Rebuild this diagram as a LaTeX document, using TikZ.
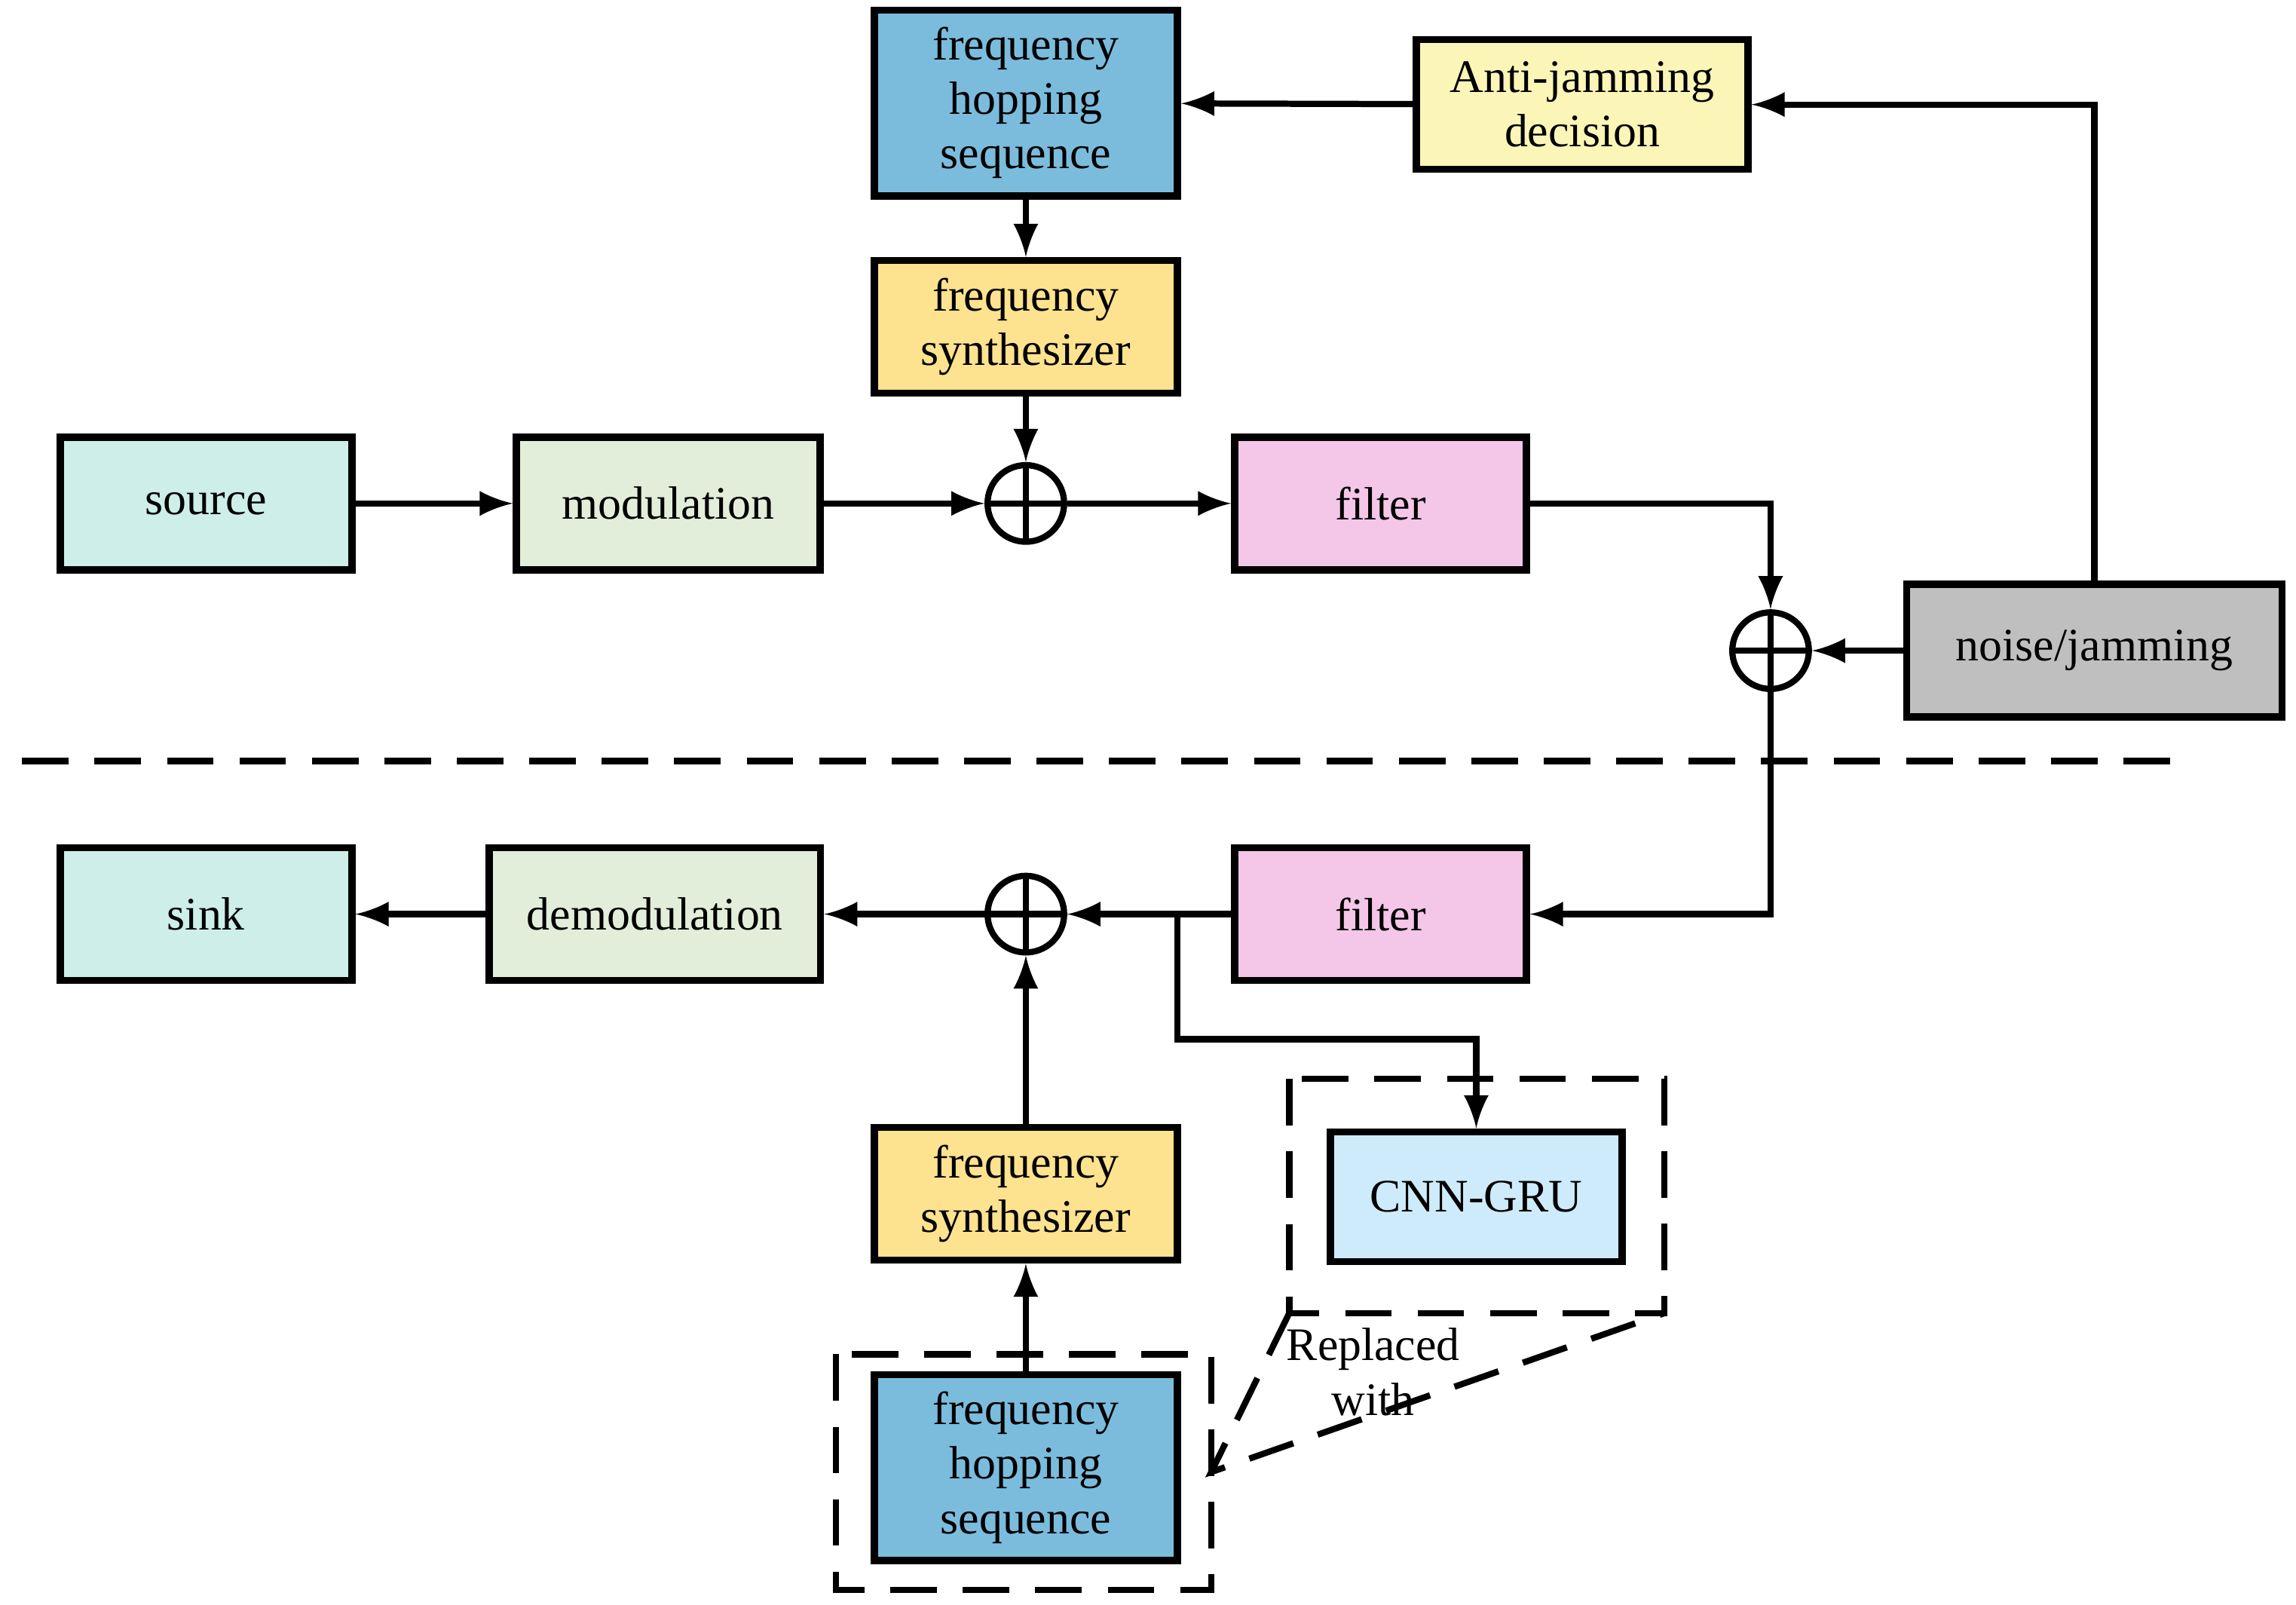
\documentclass[tikz,border=0pt]{standalone}
\usepackage{fontspec}
\setmainfont{Liberation Serif}
\usetikzlibrary{arrows}

\definecolor{hopblue}{HTML}{7BBCDD}
\definecolor{decyellow}{HTML}{FBF5B8}
\definecolor{synthyellow}{HTML}{FDE28F}
\definecolor{srcgreen}{HTML}{CDEEE9}
\definecolor{modgreen}{HTML}{E2EED9}
\definecolor{filterpink}{HTML}{F4C6E8}
\definecolor{noisegray}{HTML}{BFBFBF}
\definecolor{cnnblue}{HTML}{CDEBFB}

\tikzset{
  block/.style={draw, line width=1.4pt, minimum height=0.9cm, minimum width=1.98cm,
                align=center, font=\fontsize{9}{10.5}\selectfont},
  adder/.style={draw, circle, line width=1.2pt, minimum size=0.52cm, inner sep=0pt,
                path picture={\draw[line width=1.2pt]
                  (path picture bounding box.north) -- (path picture bounding box.south)
                  (path picture bounding box.west) -- (path picture bounding box.east);}},
  wire/.style={line width=1.2pt},
  arr/.style={wire, -latex},
  frame/.style={line width=1.2pt, dashed, dash pattern=on 9pt off 5pt}
}

\begin{document}
\begin{tikzpicture}[x=0.01cm, y=-0.01cm, >=latex]
    \useasboundingbox (0,0) rectangle (1560,1090);

    % transmitter
    \node[block, fill=hopblue, minimum width=2.06cm, minimum height=1.15cm] (hop1) at (697,70) {frequency\\hopping\\sequence};
    \node[block, fill=decyellow, minimum width=2.25cm, minimum height=0.88cm] (anti) at (1075,71) {Anti-jamming\\decision};
    \node[block, fill=synthyellow, minimum width=2.06cm] (syn1) at (697,222) {frequency\\synthesizer};
    \node[block, fill=srcgreen] (source) at (140,342) {source};
    \node[block, fill=modgreen, minimum width=2.06cm] (mod) at (454,342) {modulation};
    \node[adder] (add1) at (697,342) {};
    \node[block, fill=filterpink] (filt1) at (938,342) {filter};
    \node[adder] (add2) at (1203,442) {};
    \node[block, fill=noisegray, minimum width=2.55cm] (noise) at (1423,442) {noise/jamming};

    \coordinate (lineL) at (15,517);
    \coordinate (lineR) at (1490,517);
    \draw[frame] (lineL) -- (lineR);

    % receiver
    \node[block, fill=srcgreen] (sink) at (140,621) {sink};
    \node[block, fill=modgreen, minimum width=2.25cm] (demod) at (445,621) {demodulation};
    \node[adder] (add3) at (697,621) {};
    \node[block, fill=filterpink] (filt2) at (938,621) {filter};
    \node[block, fill=synthyellow, minimum width=2.06cm] (syn2) at (697,811) {frequency\\synthesizer};
    \node[block, fill=cnnblue, minimum height=0.88cm] (cnn) at (1003,813) {CNN-GRU};
    \node[block, fill=hopblue, minimum width=2.06cm, minimum height=1.15cm] (hop2) at (697,997) {frequency\\hopping\\sequence};

    \draw[arr] (anti) -- (hop1);
    \draw[arr] (noise.north) |- (anti.east);
    \draw[arr] (hop1) -- (syn1);
    \draw[arr] (syn1) -- (add1);
    \draw[arr] (source) -- (mod);
    \draw[arr] (mod) -- (add1);
    \draw[arr] (add1) -- (filt1);
    \draw[arr] (filt1.east) -| (add2.north);
    \draw[arr] (noise) -- (add2);
    \draw[arr] (add2.south) |- (filt2.east);
    \draw[arr] (filt2) -- (add3);
    \draw[arr] (add3) -- (demod);
    \draw[arr] (demod) -- (sink);
    \draw[arr] (syn2) -- (add3);
    \draw[arr] (hop2) -- (syn2);

    \coordinate (tap) at (800,621);
    \coordinate (bend) at (800,706);
    \draw[arr] (tap) -- (bend) -| (cnn.north);

    % replacement frames
    \coordinate (cnnTL) at (876,733);
    \coordinate (cnnBR) at (1131,892);
    \coordinate (cnnBL) at (876,892);
    \coordinate (hopTL) at (568,920);
    \coordinate (hopBR) at (823,1080);
    \coordinate (hopR) at (823,1000);
    \draw[frame] (cnnTL) rectangle (cnnBR);
    \draw[frame] (hopTL) rectangle (hopBR);
    \draw[frame] (cnnBL) -- (hopR) -- (cnnBR);
    \node[font=\fontsize{9}{10.5}\selectfont, align=center] (repl) at (933,932) {Replaced\\with};
\end{tikzpicture}
\end{document}
